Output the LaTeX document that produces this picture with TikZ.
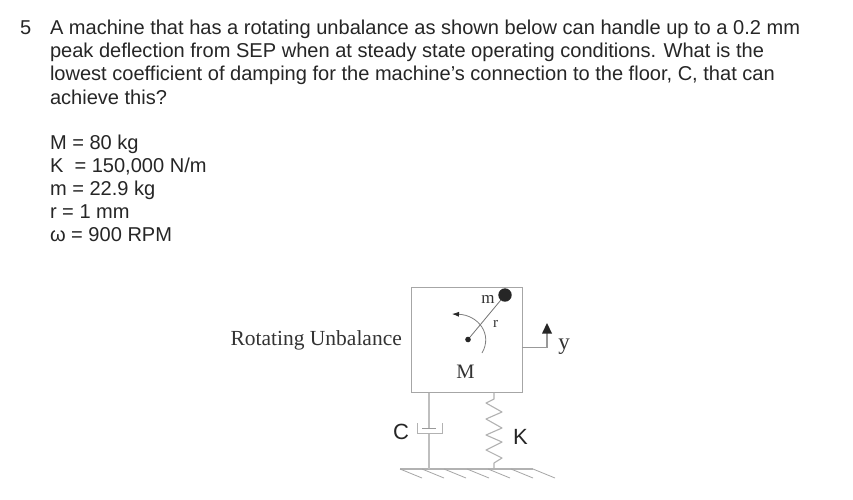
\documentclass[tikz,border=0pt]{standalone}
\usepackage{fontspec}
\setmainfont{Liberation Sans}
\newfontfamily\serifx{Liberation Serif}
\usetikzlibrary{arrows.meta}
\tikzset{
  txt/.style={anchor=base west,inner sep=0pt,outer sep=0pt,font=\fontsize{20.05}{22}\selectfont,text=black!85},
  ser/.style={anchor=base,inner sep=0pt,outer sep=0pt,text=black!80},
  lab/.style={anchor=base,inner sep=0pt,outer sep=0pt,font=\fontsize{22}{24}\selectfont,text=black!85},
  mech/.style={draw=black!25,line width=1.1pt},
  thin1/.style={draw=black!35,line width=0.8pt},
}
\begin{document}
\begin{tikzpicture}[x=1pt,y=-1pt]
\useasboundingbox (0,0) rectangle (853,499);
\fill[white] (0,0) rectangle (853,499);
\node[txt] (n5) at (20,34) {5};
\node[txt] (l1) at (50,34) {A machine that has a rotating unbalance as shown below can handle up to a 0.2 mm};
\node[txt] (l2) at (50,57) {peak deflection from SEP when at steady state operating conditions. What is the};
\node[txt] (l3) at (50,80) {lowest coefficient of damping for the machine’s connection to the floor, C, that can};
\node[txt] (l4) at (50,104) {achieve this?};
\node[txt] (p1) at (50,149) {M = 80 kg};
\node[txt] (p2) at (50,172) {K\ \ = 150,000 N/m};
\node[txt] (p3) at (50,195) {m = 22.9 kg};
\node[txt] (p4) at (50,218) {r = 1 mm};
\node[txt] (p5) at (50,241) {ω = 900 RPM};
% machine
\node[ser,anchor=base west,font=\serifx\fontsize{21.5}{24}\selectfont] (ru) at (230.5,345) {Rotating Unbalance};
\node[draw=black!35,line width=0.9pt,minimum width=110.5pt,minimum height=105.5pt,inner sep=0pt,outer sep=0pt] (box) at (466.7,339.7) {};
\coordinate (mpos) at (505,295);
\coordinate (cpos) at (468,339.5);
\draw[thin1,draw=black!55] (cpos) -- (mpos);
\fill[black!85] (mpos) circle (6.7pt);
\fill[black!85] (cpos) circle (2.8pt);
\node[ser,font=\serifx\fontsize{17}{18}\selectfont] (mm) at (488,303) {m};
\node[ser,font=\serifx\fontsize{15}{16}\selectfont] (rr) at (495.5,327.5) {r};
\node[ser,font=\serifx\fontsize{20.5}{24}\selectfont] (MM) at (465.5,378) {M};
\node[ser,font=\serifx\fontsize{23}{24}\selectfont] (yy) at (564,349) {y};
\coordinate (a1) at (482,353);
\coordinate (a2) at (452,314);
\draw[thin1,draw=black!50,-{Latex[length=7pt,width=5pt,black!85]}] (a1) .. controls (493,334) and (478,315) .. (a2);
% y arrow
\coordinate (yb) at (547,347.5);
\coordinate (yt) at (547,323);
\draw[mech,draw=black!40] (box.east |- yb) -- (yb) -- (547,333);
\fill[black!85] (yt) -- (552,333.5) -- (542,333.5) -- cycle;
% ground
\coordinate (g1) at (400,469);
\coordinate (g2) at (533,469);
\draw[mech,draw=black!30] (g1) -- (g2);
\foreach \x in {400,422,444,467,488,511,533}
  \draw[thin1] (\x,469) -- (\x+22,478);
% damper
\coordinate (da) at (429,392.5);
\coordinate (db) at (429,469);
\draw[mech] (da) -- (429,428);
\draw[mech] (429,433) -- (db);
\draw[mech,draw=black!30,line width=0.9pt] (417,423) -- (417,433) -- (442,433) -- (442,423);
\draw[mech,draw=black!40,line width=0.9pt] (422,428) -- (436,428);
\node[lab] (C) at (401,439.5) {C};
% spring
\coordinate (sa) at (494,392.5);
\coordinate (sb) at (494,469);
\draw[mech,draw=black!30,line join=round] (sa) -- (494,399) -- (486,403) -- (502,412) -- (486,419) -- (502,428) -- (486,435) -- (502,442) -- (486,450) -- (502,458) -- (494,463) -- (sb);
\node[lab] (K) at (520.5,444) {K};
\end{tikzpicture}
\end{document}
